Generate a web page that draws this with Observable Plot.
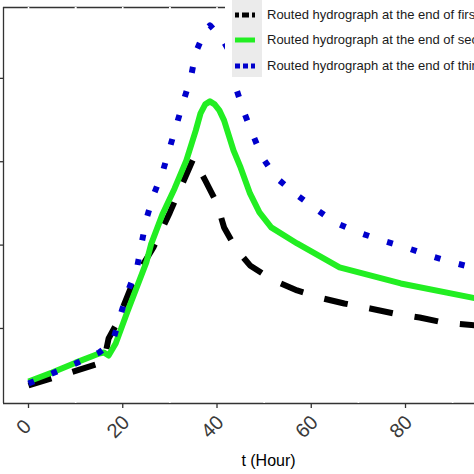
<!DOCTYPE html>
<html>
<head>
<meta charset="utf-8">
<script src="https://cdn.jsdelivr.net/npm/d3@7"></script>
<script src="https://cdn.jsdelivr.net/npm/@observablehq/plot@0.6"></script>
<style>
  html, body { margin: 0; padding: 0; background: #fff; overflow: hidden; }
  #wrap { position: relative; width: 474px; height: 474px; overflow: hidden; font-family: "Liberation Sans", Arial, sans-serif; }
  #legend { position: absolute; left: 225px; top: 0; width: 249px; height: 86px; background: #fff; overflow: hidden; }
  #legend .keys { position: absolute; left: 7px; top: 0; width: 30px; height: 77px; background: #ebebeb; }
  #legend .row { position: absolute; left: 0; height: 25.5px; width: 400px; }
  #legend .row svg { position: absolute; left: 10px; top: 10px; }
  #legend .row span { position: absolute; left: 42px; top: 0; line-height: 25.5px; font-size: 13px; color: #1a1a1a; white-space: nowrap; }
</style>
</head>
<body>
<div id="wrap"></div>
<script>
// ---- data ----
const seriesNames = [
  "Routed hydrograph at the end of first reach",
  "Routed hydrograph at the end of second reach",
  "Routed hydrograph at the end of third reach"
];
const tFirst = [0, 15, 16, 17, 18.5, 22.5, 26.5, 30, 32.5, 35, 37.5, 40, 41.5, 44, 47, 52, 57, 62.5, 67, 72.5, 77.5, 83, 88, 95];
const qFirst = [31.6, 58.0, 60.5, 88.0, 103.6, 160.0, 197.2, 239.2, 271.6, 304.0, 277.6, 250.0, 221.2, 196.0, 175.6, 157.6, 145.6, 136.0, 130.0, 124.0, 118.0, 113.2, 107.2, 103.6];
const tSecond = [0, 5, 10, 15, 16, 17, 18.5, 21, 25, 26, 28.5, 31, 33.5, 35.5, 36.5, 37.5, 38.5, 39.5, 40.5, 41.5, 42.5, 43.5, 45, 47, 49, 51.5, 57, 66, 79, 95];
const qSecond = [36.4, 47.2, 59.0, 70.0, 71.2, 67.6, 82.0, 120.4, 179.2, 200.8, 238.0, 268.0, 301.6, 337.6, 358.0, 368.8, 372.4, 368.8, 361.6, 349.6, 331.6, 313.6, 293.2, 262.0, 239.2, 221.2, 202.0, 173.2, 154.0, 136.0];
const tThird = [0, 5, 10, 15, 17, 18, 19.5, 21, 23, 24, 25, 26.5, 28.5, 30, 31.5, 33, 34.5, 35.5, 37.5, 38.5, 41, 42.5, 43.5, 44, 45.5, 47.5, 49.5, 52.5, 56.5, 60.5, 65, 70, 75, 80, 85, 90, 95];
const qThird = [34.0, 46.0, 58.0, 71.2, 79.6, 86.8, 115.6, 143.2, 172.0, 202.0, 230.8, 259.6, 288.4, 317.2, 346.0, 374.8, 402.4, 431.2, 457.6, 463.6, 448.0, 433.6, 412.0, 389.2, 362.8, 334.0, 306.4, 281.2, 262.0, 245.2, 227.2, 215.2, 205.6, 197.2, 187.6, 179.2, 172.0];
const xTicks = [0, 20, 40, 60, 80];
const xGrid = [0, 10, 20, 30, 40, 50, 60, 70, 80, 90];
const xMinor = [10, 30, 50, 70, 90];
const yTicks = [100, 200, 300, 400];
const xDomain = [-5.305, 94.64];
const yDomain = [10, 485];
const xTitle = "t (Hour)";

// ---- table ----
const rows = [
  ...tFirst.map((t, i) => ({series: seriesNames[0], t, q: qFirst[i]})),
  ...tSecond.map((t, i) => ({series: seriesNames[1], t, q: qSecond[i]})),
  ...tThird.map((t, i) => ({series: seriesNames[2], t, q: qThird[i]}))
];

const axisColor = "#333333";
const styles = [
  {stroke: "#000000", strokeWidth: 6, strokeDasharray: "24,22"},
  {stroke: "#22ee22", strokeWidth: 6, strokeDasharray: null},
  {stroke: "#0000cc", strokeWidth: 6, strokeDasharray: "6,19"}
];

const chart = Plot.plot({
  width: 474,
  height: 474,
  marginLeft: 3,
  marginRight: 0,
  marginTop: 7,
  marginBottom: 71,
  style: {fontFamily: "'Liberation Sans', Arial, sans-serif", background: "white", overflow: "visible"},
  x: {domain: xDomain, axis: null},
  y: {domain: yDomain, axis: null},
  marks: [
    Plot.ruleY([yDomain[1]], {stroke: axisColor, strokeWidth: 1.3}),
    Plot.ruleX(xGrid, {stroke: "white", strokeWidth: 1.6}),
    Plot.ruleY([yDomain[0]], {stroke: axisColor, strokeWidth: 1.3}),
    Plot.ruleX(xMinor, {stroke: "white", strokeWidth: 1.6}),
    Plot.ruleX([xDomain[0]], {stroke: axisColor, strokeWidth: 1.3}),
    Plot.axisX({ticks: xTicks, tickSize: 5, tickFormat: () => "", label: null, stroke: axisColor, strokeWidth: 1.3}),
    Plot.axisY({ticks: yTicks, tickSize: 3, tickFormat: () => "", label: null, stroke: axisColor, strokeWidth: 1.3}),
    Plot.text(xTicks, {x: d => d, text: d => String(d), frameAnchor: "bottom", dy: 28, rotate: -45, fontSize: 20, fill: "#3a3a3a"}),
    Plot.text([xTitle], {frameAnchor: "bottom", dx: 29.5, dy: 62, fontSize: 16, fill: "#000"}),
    ...seriesNames.map((name, i) => Plot.line(rows, {
      filter: d => d.series === name,
      x: "t", y: "q",
      stroke: styles[i].stroke,
      strokeWidth: styles[i].strokeWidth,
      strokeDasharray: styles[i].strokeDasharray,
      strokeLinecap: "butt",
      strokeLinejoin: "round"
    }))
  ]
});

const wrap = document.getElementById("wrap");
wrap.appendChild(chart);

// ---- legend ----
const legend = document.createElement("div");
legend.id = "legend";
legend.innerHTML = `<div class="keys"></div>`;
const keySvgs = [
  `<svg width="20" height="6"><line x1="0" y1="3" x2="20" y2="3" stroke="#000" stroke-width="5" stroke-dasharray="4,3,7,3,4"/></svg>`,
  `<svg width="20" height="6"><line x1="0" y1="3" x2="20" y2="3" stroke="#22ee22" stroke-width="5"/></svg>`,
  `<svg width="20" height="6"><line x1="0" y1="3" x2="20" y2="3" stroke="#0000cc" stroke-width="5" stroke-dasharray="5,3"/></svg>`
];
seriesNames.forEach((name, i) => {
  const row = document.createElement("div");
  row.className = "row";
  row.style.top = (1.5 + 25.5 * i) + "px";
  row.innerHTML = keySvgs[i] + `<span>${name}</span>`;
  legend.appendChild(row);
});
wrap.appendChild(legend);
</script>
</body>
</html>
